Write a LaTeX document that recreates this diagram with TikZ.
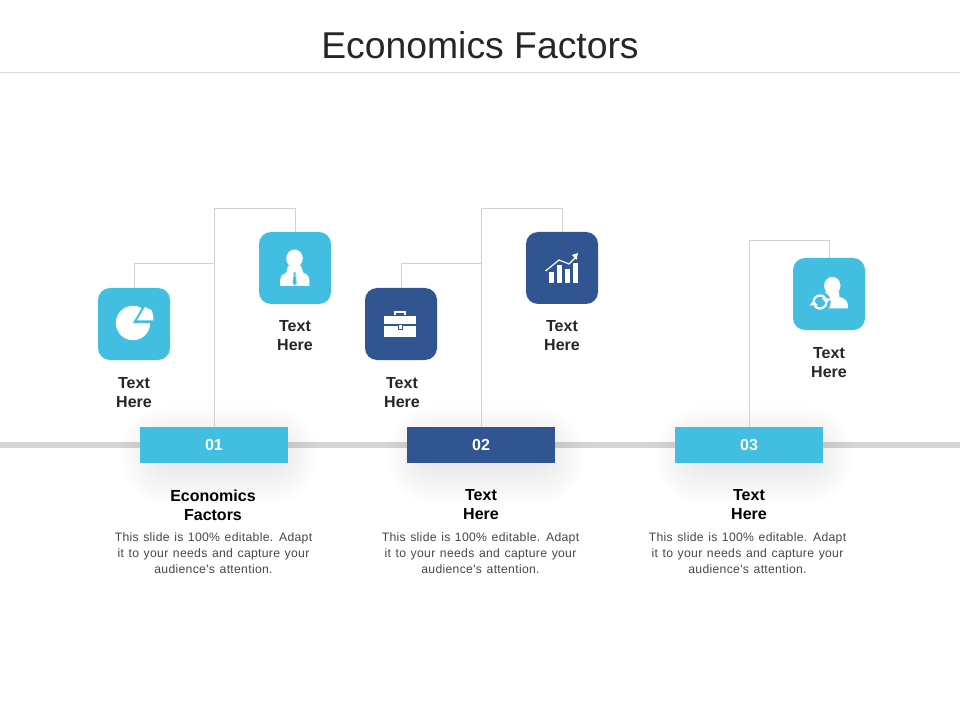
\documentclass[tikz,border=0pt]{standalone}
\usepackage{fontspec}
\setmainfont{Liberation Sans}
\newfontfamily\bodyfont[LetterSpace=2.5,WordSpace=1.25]{Liberation Sans}
\definecolor{lblue}{HTML}{41BEE0}
\definecolor{dblue}{HTML}{305590}
\definecolor{conn}{HTML}{D2D2D2}
\definecolor{txt}{HTML}{262626}
\tikzset{
  x=0.75pt,y=-0.75pt,
  conline/.style={draw=conn,line width=0.75pt},
  iconbox/.style={minimum width=54pt,minimum height=54pt,rounded corners=9pt,inner sep=0pt},
  numbar/.style={minimum width=111pt,minimum height=27pt,inner sep=0pt,text=white,font=\fontsize{12}{14}\selectfont\bfseries},
  headtxt/.style={align=center,inner sep=0pt,text=txt,font=\fontsize{12}{14.25}\selectfont\bfseries},
  subhead/.style={align=center,inner sep=0pt,text=black,font=\fontsize{12}{14.25}\selectfont\bfseries},
  bodytxt/.style={align=center,inner sep=0pt,text=txt!85!white,font=\bodyfont\fontsize{9.15}{12}\selectfont},
}
\newcommand{\softshadow}[1]{%
  \foreach \i in {2,4,...,50}{
    \fill[black,opacity=0.0055,rounded corners=\i*0.75pt]
      (#1-45-\i,455-\i) rectangle (#1+55+\i,456+\i);
  }%
}
\begin{document}
\begin{tikzpicture}
\useasboundingbox (0,0) rectangle (960,720);
\fill[white] (0,0) rectangle (960,720);

% title
\node[inner sep=0pt,text=txt,font=\fontsize{28}{32}\selectfont] (title) at (480,45.5) {Economics Factors};
\coordinate (ruleL) at (0,72.5);
\coordinate (ruleR) at (960,72.5);
\draw[draw=conn!85!white,line width=0.75pt] (ruleL) -- (ruleR);

% timeline
\coordinate (lineL) at (0,445);
\coordinate (lineR) at (960,445);
\draw[draw=conn!95!white,line width=4.1pt] (lineL) -- (lineR);

\softshadow{214}
\softshadow{481}
\softshadow{749}

% bars
\node[numbar,fill=lblue] (bar1) at (214,445) {01};
\node[numbar,fill=dblue] (bar2) at (481,445) {02};
\node[numbar,fill=lblue] (bar3) at (749,445) {03};

% icon boxes
\node[iconbox,fill=lblue] (icon1) at (134,324) {};
\node[iconbox,fill=lblue] (icon2) at (295,268) {};
\node[iconbox,fill=dblue] (icon3) at (401,324) {};
\node[iconbox,fill=dblue] (icon4) at (562,268) {};
\node[iconbox,fill=lblue] (icon5) at (829,294) {};

% connectors
\coordinate (t1) at (295,208.5);
\coordinate (t2) at (562,208.5);
\coordinate (t3) at (829,240.5);
\coordinate (j1) at (214,263.5);
\coordinate (j2) at (481,263.5);
\draw[conline] (bar1.north) |- (t1) -- (icon2.north);
\draw[conline] (icon1.north) |- (j1);
\draw[conline] (bar2.north) |- (t2) -- (icon4.north);
\draw[conline] (icon3.north) |- (j2);
\draw[conline] (bar3.north) |- (t3) -- (icon5.north);

% labels
\node[headtxt] (l1) at (134,392.5) {Text\\Here};
\node[headtxt] (l2) at (295,335.5) {Text\\Here};
\node[headtxt] (l3) at (402,392.5) {Text\\Here};
\node[headtxt] (l4) at (562,335.5) {Text\\Here};
\node[headtxt] (l5) at (829,362.5) {Text\\Here};

\node[subhead] (s1) at (213,505) {Economics\\Factors};
\node[subhead] (s2) at (481,505) {Text\\Here};
\node[subhead] (s3) at (749,505) {Text\\Here};

\node[bodytxt] (b1) at (213.5,553) {This slide is 100\% editable. Adapt\\it to your needs and capture your\\audience's attention.};
\node[bodytxt] (b2) at (480.5,553) {This slide is 100\% editable. Adapt\\it to your needs and capture your\\audience's attention.};
\node[bodytxt] (b3) at (747.5,553) {This slide is 100\% editable. Adapt\\it to your needs and capture your\\audience's attention.};

% pie icon
\fill[white] (133,323) circle[radius=12.9pt];
\fill[lblue] (133,323) -- (156,323) -- (156,290) -- (152.5,290) -- cycle;
\fill[white] (137,320.3) -- (145,306.9) -- (151.5,310) .. controls (152.7,313) and (153.5,317) .. (153.5,320.3) -- cycle;

% person with tie
\fill[white] (294.5,258.5) ellipse[x radius=8.3,y radius=9];
\fill[white] (288,266) -- (301,266) -- (303.5,273)
  .. controls (309,274.5) and (309.5,277) .. (309.5,286) -- (280,286)
  .. controls (280,277) and (280.5,274.5) .. (286,273) -- cycle;
\fill[lblue] (293.4,272.5) -- (295.8,272.5) -- (295.4,275) -- (296.7,283) -- (294.6,285.5) -- (292.6,283) -- (293.8,275) -- cycle;

% briefcase
\draw[white,line width=1.1pt] (395,315) -- (395,311.8) -- (405,311.8) -- (405,315);
\fill[white] (384,316) rectangle (416,324.2);
\fill[white] (384,325.8) rectangle (416,337.3);
\draw[dblue,fill=white,line width=0.6pt] (398,324) rectangle (402,329.5);

% chart
\fill[white] (549,271.7) rectangle (554.3,283.3);
\fill[white] (557,265) rectangle (562.3,283.3);
\fill[white] (565,269) rectangle (570.3,283.3);
\fill[white] (572.7,263.3) rectangle (578,283.3);
\draw[white,line width=0.9pt] (545.5,271) -- (559,260) -- (569,264) -- (576,257);
\fill[white] (578,253) -- (571.8,255) -- (576.5,259.8) -- cycle;

% person with refresh
\fill[white] (832.3,285.7) ellipse[x radius=8.2,y radius=8.8];
\fill[white] (825,292) -- (839,292) -- (839.5,297)
  .. controls (846,298.5) and (848,301) .. (848,308.3) -- (822,308.3) -- cycle;
\fill[lblue] (820,302) circle[radius=8pt];
\draw[white,line width=1.7pt] (813.6,300.9) arc[start angle=170,end angle=35,radius=4.9pt];
\draw[white,line width=1.7pt] (826.4,303.1) arc[start angle=-10,end angle=-145,radius=4.9pt];
\fill[white] (822,298.5) -- (830.5,298.5) -- (826.5,303.5) -- cycle;
\fill[white] (818,305.5) -- (809.5,305.5) -- (813.5,300.5) -- cycle;
\end{tikzpicture}
\end{document}
